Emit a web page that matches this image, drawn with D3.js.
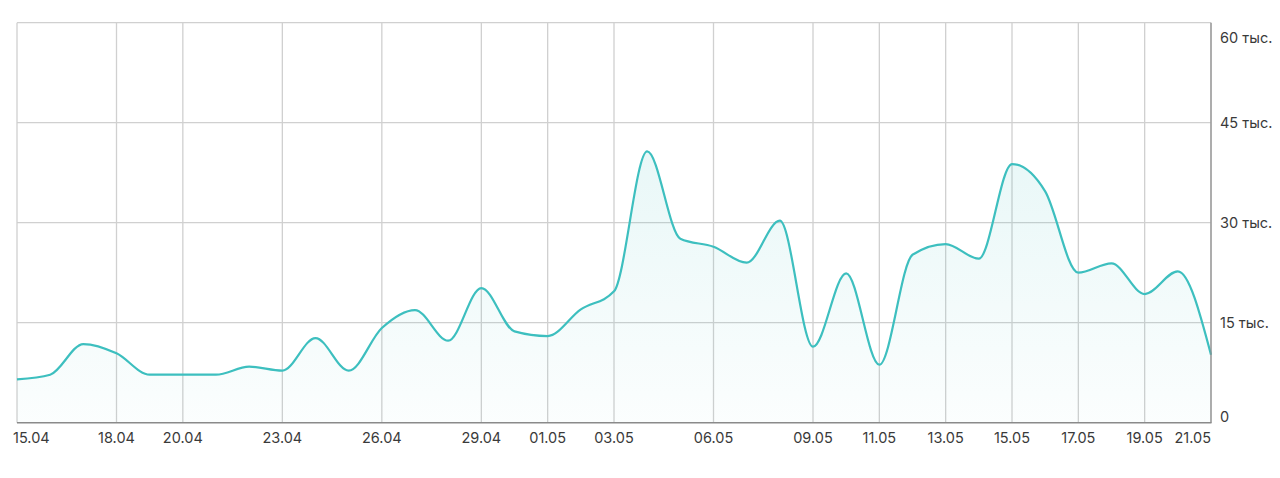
<!DOCTYPE html>
<html><head><meta charset="utf-8">
<script src="https://cdn.jsdelivr.net/npm/d3@7/dist/d3.min.js"></script>
<style>
html,body{margin:0;padding:0;background:#fff;}
svg{display:block;font-family:Inter,"Noto Sans",sans-serif;}
</style></head>
<body><svg id="chart" width="1280" height="478"></svg>
<script>
const dates = ["15.04","16.04","17.04","18.04","19.04","20.04","21.04","22.04","23.04","24.04","25.04","26.04","27.04","28.04","29.04","30.04","01.05","02.05","03.05","04.05","05.05","06.05","07.05","08.05","09.05","10.05","11.05","12.05","13.05","14.05","15.05","16.05","17.05","18.05","19.05","20.05","21.05"];
const values = [6500,7200,11800,10400,7200,7200,7200,8400,7800,12700,7800,14200,16900,12300,20200,13700,13000,17000,19700,40700,27600,26400,24000,30300,11400,22400,8700,25200,26800,24600,38800,34700,22500,23900,19300,22700,10200];
const xTickLabels = ["15.04","18.04","20.04","23.04","26.04","29.04","01.05","03.05","06.05","09.05","11.05","13.05","15.05","17.05","19.05","21.05"];
const yTicks = [0,15000,30000,45000,60000];
const yTickLabels = ["0","15 тыс.","30 тыс.","45 тыс.","60 тыс."];

const svg = d3.select("#chart");
const L = 17, R = 1211, T = 22.7, B = 422.7;
const x = d3.scalePoint().domain(dates).range([L, R]);
const y = d3.scaleLinear().domain([0, 60000]).range([B, T]);

const defs = svg.append("defs");
const grad = defs.append("linearGradient").attr("id","fillGrad")
  .attr("gradientUnits","userSpaceOnUse").attr("x1",0).attr("x2",0).attr("y1",T).attr("y2",B);
grad.append("stop").attr("offset","0%").attr("stop-color","#3dbdbd").attr("stop-opacity",0.16);
grad.append("stop").attr("offset","100%").attr("stop-color","#3dbdbd").attr("stop-opacity",0.02);

svg.append("g").selectAll("line").data(yTicks.slice(1)).join("line")
  .attr("x1", L).attr("x2", R).attr("y1", d => y(d)).attr("y2", d => y(d))
  .attr("stroke", "#d0d0d0").attr("stroke-width", 1.3);
svg.append("g").selectAll("line").data(xTickLabels).join("line")
  .attr("x1", d => x(d)).attr("x2", d => x(d)).attr("y1", T).attr("y2", B)
  .attr("stroke", "#d0d0d0").attr("stroke-width", 1.3);

const area = d3.area().x((d,i) => x(dates[i])).y0(B).y1(d => y(d)).curve(d3.curveMonotoneX);
const line = d3.line().x((d,i) => x(dates[i])).y(d => y(d)).curve(d3.curveMonotoneX);
svg.append("path").datum(values).attr("d", area).attr("fill", "url(#fillGrad)");
svg.append("path").datum(values).attr("d", line).attr("fill", "none")
  .attr("stroke", "#3dbfbf").attr("stroke-width", 2.2).attr("stroke-linejoin","round");

svg.append("line").attr("x1", L).attr("x2", R + 0.5).attr("y1", B).attr("y2", B).attr("stroke", "#8a8a8a").attr("stroke-width", 1.4);
svg.append("line").attr("x1", R).attr("x2", R).attr("y1", T).attr("y2", B).attr("stroke", "#8a8a8a").attr("stroke-width", 1.2);

svg.append("g").selectAll("text").data(xTickLabels).join("text")
  .attr("x", (d,i) => i === 0 ? x(d) - 4 : x(d))
  .attr("y", 443)
  .attr("text-anchor", (d,i) => i === 0 ? "start" : (i === xTickLabels.length - 1 ? "end" : "middle"))
  .attr("font-size", 14.5).attr("fill", "#3a3a3a").text(d => d);

svg.append("g").selectAll("text").data(yTicks).join("text")
  .attr("x", R + 9)
  .attr("y", (d,i) => i === 0 ? y(d) - 1 : (i === yTicks.length - 1 ? y(d) + 20 : y(d) + 5))
  .attr("font-size", 14.5).attr("fill", "#3a3a3a").text((d,i) => yTickLabels[i]);
</script></body></html>
